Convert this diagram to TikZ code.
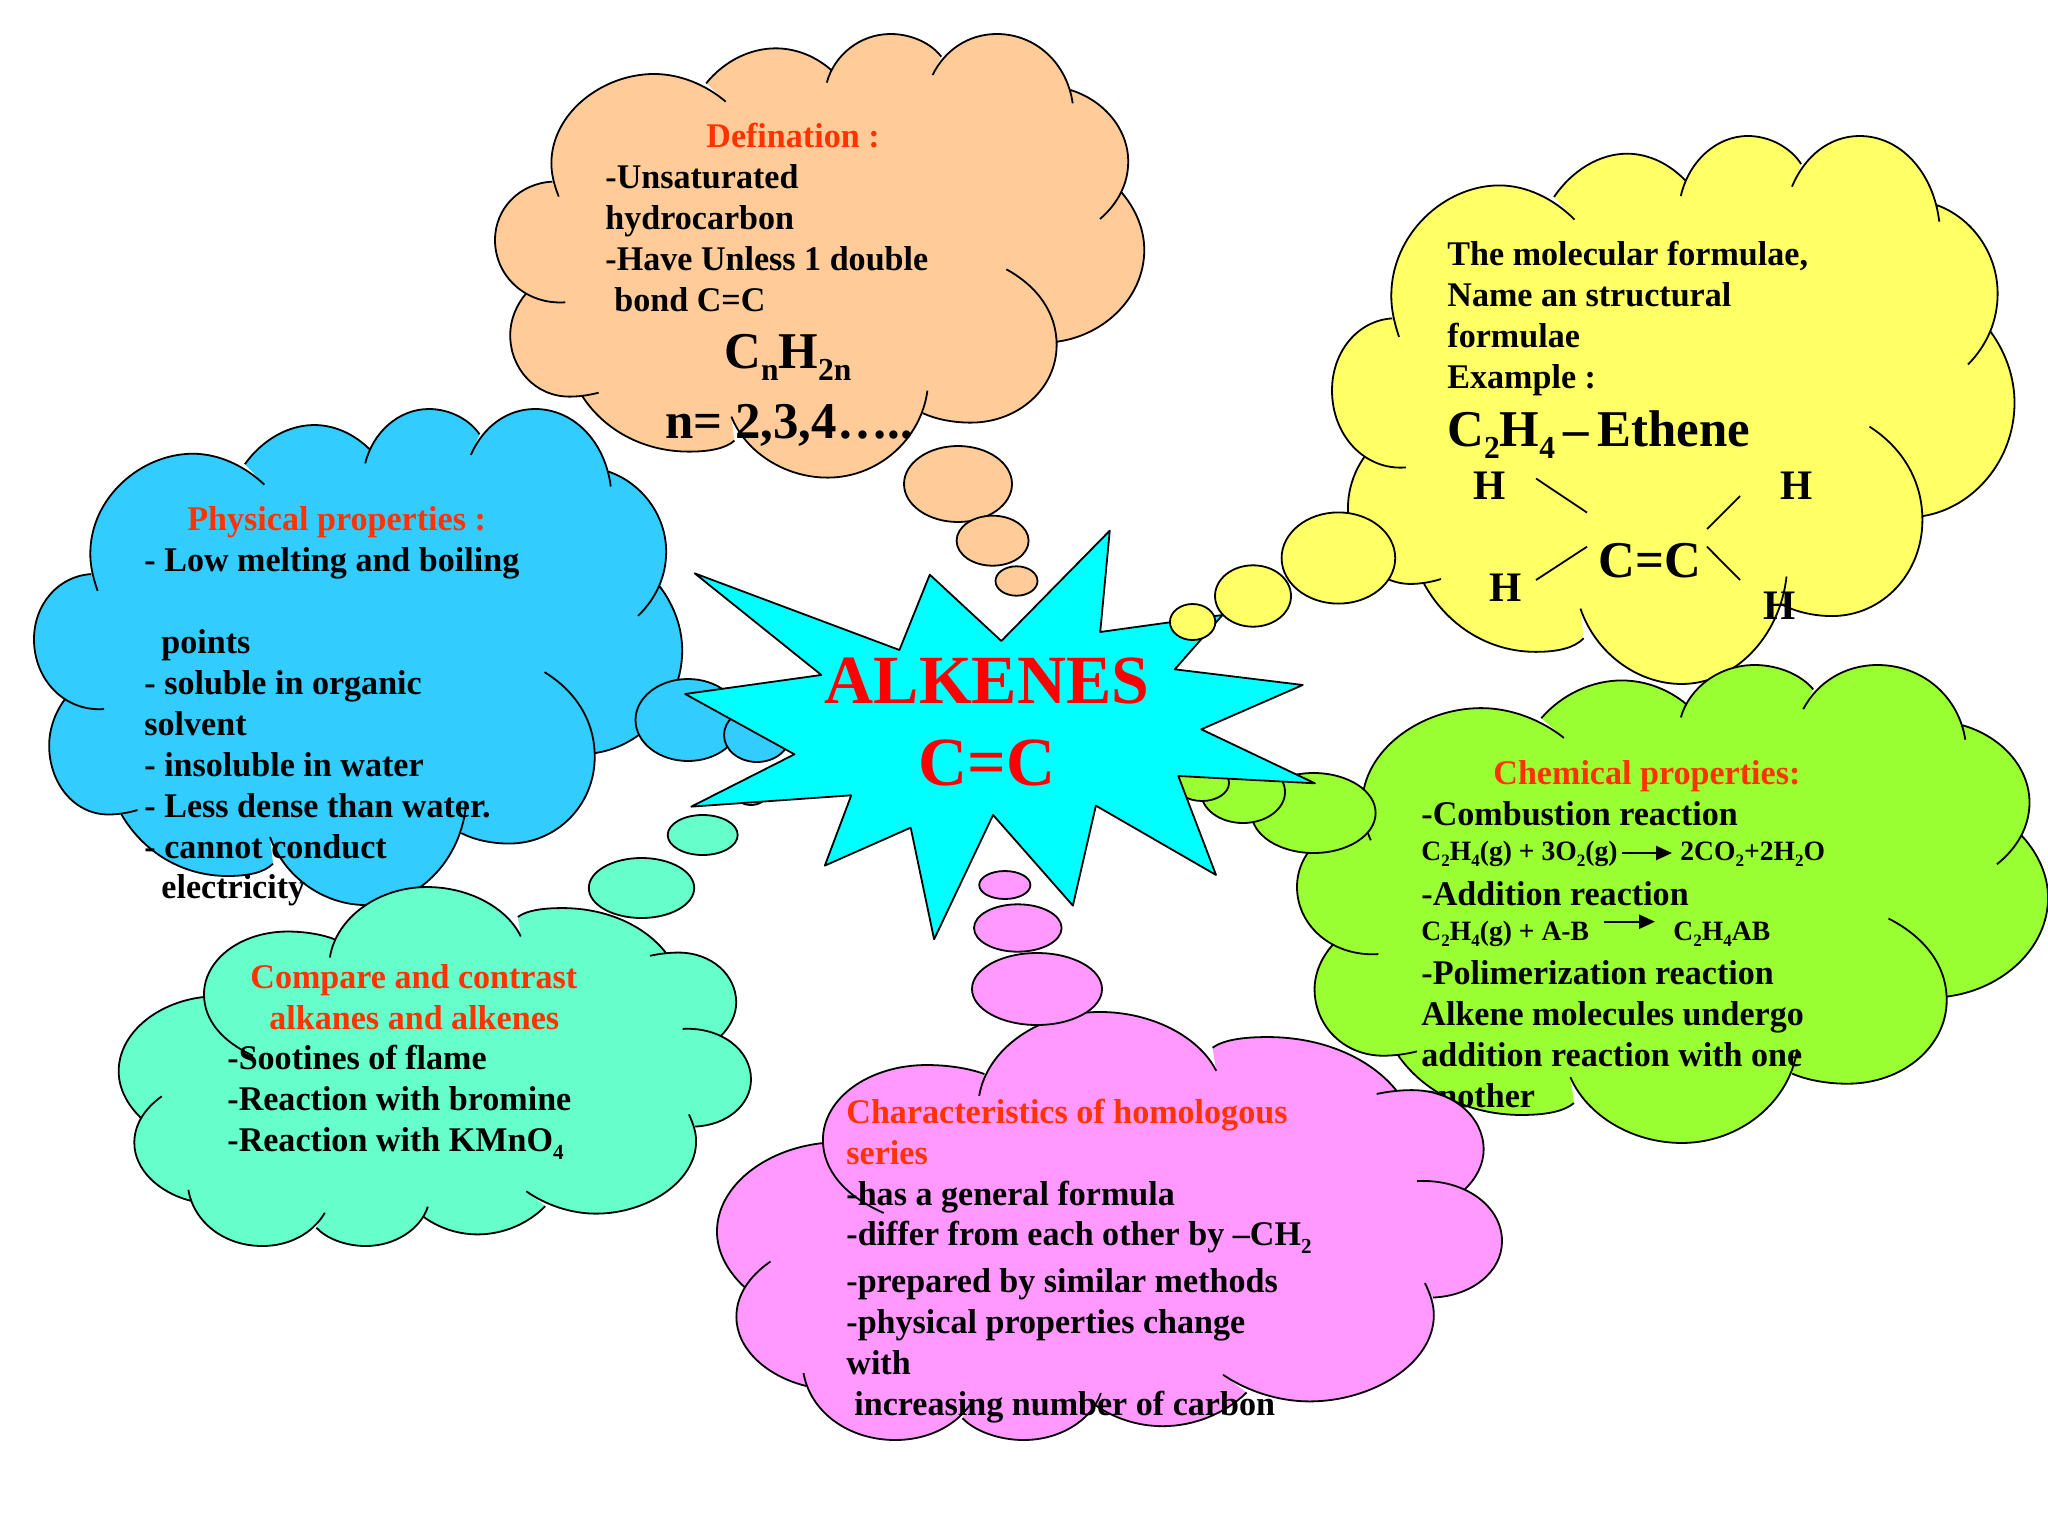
\documentclass[tikz,border=0pt]{standalone}
\usepackage{fontspec}
\usetikzlibrary{arrows.meta}
\newfontfamily\tn[FakeStretch=.985]{Liberation Serif}
\definecolor{cpeach}{HTML}{FFCC99}
\definecolor{cyellow}{HTML}{FFFF66}
\definecolor{cgreen}{HTML}{99FF33}
\definecolor{cblue}{HTML}{33CCFF}
\definecolor{cmint}{HTML}{66FFCC}
\definecolor{cpink}{HTML}{FF99FF}
\definecolor{cstar}{HTML}{00FFFF}
\definecolor{ctitle}{HTML}{FF3300}
\newcommand\cloudarcs[1]{
 (180,530) .. controls (168,490) and (163,460) .. (163,430) .. controls (163,280) and (280,162) .. (400,162) .. controls (460,162) and (520,195) .. (565,245) #1
 (520,190) .. controls (560,125) and (620,85) .. (680,85) .. controls (730,85) and (775,112) .. (808,150) #1
 (798,188) .. controls (815,105) and (875,42) .. (945,42) .. controls (995,42) and (1040,72) .. (1062,110) #1
 (1042,165) .. controls (1070,90) and (1125,42) .. (1190,42) .. controls (1280,42) and (1352,130) .. (1365,250) #1
 (1360,210) .. controls (1435,240) and (1493,325) .. (1493,425) .. controls (1493,490) and (1470,550) .. (1428,597) #1
 (1478,518) .. controls (1512,570) and (1530,630) .. (1530,690) .. controls (1530,830) and (1440,945) .. (1330,965) #1
 (1212,748) .. controls (1285,800) and (1328,880) .. (1328,975) .. controls (1328,1105) and (1240,1208) .. (1130,1208) .. controls (1090,1208) and (1050,1198) .. (1020,1180) #1
 (1030,1112) .. controls (1015,1260) and (915,1373) .. (800,1373) .. controls (700,1373) and (610,1295) .. (578,1190) #1
 (585,1262) .. controls (565,1285) and (530,1295) .. (480,1295) .. controls (375,1295) and (285,1230) .. (235,1130) #1
 (272,1118) .. controls (250,1126) and (225,1130) .. (205,1130) .. controls (125,1130) and (68,1045) .. (68,945) .. controls (68,900) and (82,855) .. (105,820) #1
 (195,847) .. controls (105,855) and (33,770) .. (33,660) .. controls (33,565) and (90,490) .. (165,485)
}
% colour, anchor x, anchor y, x scale, y scale
\newcommand\stdcloud[5]{
 \begin{scope}[shift={(#2,#3)},xscale=#4,yscale=#5,shift={(-33,-42)}]
  \fill[#1] \cloudarcs{--} -- cycle;
  \draw[outline] \cloudarcs{};
 \end{scope}}
\newcommand\bub[5]{\draw[outline,fill=#1] (#2,#3) ellipse [x radius=#4,y radius=#5];}
\newcommand\tline[5][]{\node[txt,#1] (#2) at (#3,#4) {#5};}
\newcommand\su[1]{\raisebox{-.24em}{\scalebox{.62}{#1}}}
\tikzset{
 outline/.style={draw=black,line width=.9pt,line join=round},
 txt/.style={anchor=base west,inner sep=0pt,text=black,yshift=-.6pt,font=\tn\bfseries\fontsize{17.3}{20}\selectfont},
 head/.style={text=ctitle},
 eqn/.style={font=\tn\bfseries\fontsize{14}{16}\selectfont},
 big/.style={yshift=.6pt,font=\tn\bfseries\fontsize{25.8}{30}\selectfont},
 atom/.style={yshift=.6pt,font=\tn\bfseries\fontsize{21}{26}\selectfont},
 main/.style={anchor=base,inner sep=0pt,text=red,font=\tn\bfseries\fontsize{34.5}{40}\selectfont},
 bond/.style={draw=black,line width=.9pt},
 react/.style={draw=black,line width=1.2pt,-{Triangle[length=8pt,width=7pt]}},
}
\begin{document}
\begin{tikzpicture}[x=.5pt,y=-.5pt]
\useasboundingbox (0,0) rectangle (2048,1536);
% peach
\stdcloud{cpeach}{495}{34}{.4337}{.3333}
\tline[head]{p0}{706}{146.7}{Defination :}
\tline{p1}{605}{187.7}{-Unsaturated}
\tline{p2}{605}{228}{hydrocarbon}
\tline{p3}{605}{269}{-Have Unless 1 double}
\tline{p4}{614}{310}{bond C=C}
\tline[big]{p5}{724}{368}{C\su{n}H\su{2n}}
\tline[big]{p6}{665}{438}{n= 2,3,4\dots..}
% blue
\stdcloud{cblue}{34}{409}{.4330}{.3727}
\tline[head]{b0}{187}{529}{Physical properties :}
\tline{b1}{144}{570}{- Low melting and boiling}
\tline{b2}{161}{652}{points}
\tline{b3}{144}{693}{- soluble in organic}
\tline{b4}{144}{734}{solvent}
\tline{b5}{144}{775}{- insoluble in water}
\tline{b6}{144}{816}{- Less dense than water.}
\tline{b7}{144}{857}{- cannot conduct}
\tline{b8}{161}{897}{electricity}
% yellow
\stdcloud{cyellow}{1332}{136}{.4559}{.4117}
\tline{y0}{1447}{264.4}{The molecular formulae,}
\tline{y1}{1447}{305}{Name an structural}
\tline{y2}{1447}{346}{formulae}
\tline{y3}{1447}{387.4}{Example :}
\tline[big]{y4}{1447}{446}{C\su{2}H\su{4}\,–\,Ethene}
\tline[atom]{h1}{1473}{499.6}{H}
\tline[atom]{h2}{1780}{499.6}{H}
\tline[big]{cc}{1598}{577}{C=C}
\tline[atom]{h3}{1489}{601.5}{H}
\tline[atom]{h4}{1763}{619}{H}
\coordinate (ba1) at (1536,478.5); \coordinate (ba2) at (1587,512.6);
\coordinate (bb1) at (1740,496);   \coordinate (bb2) at (1707,529);
\coordinate (bc1) at (1587,546.7); \coordinate (bc2) at (1536,580);
\coordinate (bd1) at (1707,546.7); \coordinate (bd2) at (1740,580);
\draw[bond] (ba1) -- (ba2);
\draw[bond] (bb1) -- (bb2);
\draw[bond] (bc1) -- (bc2);
\draw[bond] (bd1) -- (bd2);
% green
\stdcloud{cgreen}{1297}{665}{.5017}{.3591}
\tline[head]{g0}{1493}{783}{Chemical properties:}
\tline{g1}{1421}{824}{-Combustion reaction}
\tline[eqn]{g2}{1421}{859}{C\su{2}H\su{4}(g) + 3O\su{2}(g)}
\tline[eqn]{g3}{1680}{859}{2CO\su{2}+2H\su{2}O}
\tline{g4}{1421}{904}{-Addition reaction}
\tline[eqn]{g5}{1421}{939}{C\su{2}H\su{4}(g) + A-B}
\tline[eqn]{g6}{1673}{939}{C\su{2}H\su{4}AB}
\tline{g7}{1421}{983}{-Polimerization reaction}
\tline{g8}{1421}{1024}{Alkene molecules undergo}
\tline{g9}{1421}{1065}{addition reaction with one}
\tline{g10}{1421}{1106}{another}
\coordinate (ra1) at (1622,853); \coordinate (ra2) at (1672,853);
\coordinate (rb1) at (1604,921.7); \coordinate (rb2) at (1655,921.7);
\draw[react] (ra1) -- (ra2);
\draw[react] (rb1) -- (rb2);
% mint (turned half way round)
\stdcloud{cmint}{751}{1246}{-.4224}{-.2697}
\tline[head]{m0}{250}{987}{Compare and contrast}
\tline[head]{m1}{269}{1028}{alkanes and alkenes}
\tline{m2}{227}{1068}{-Sootines of flame}
\tline{m3}{227}{1109}{-Reaction with bromine}
\tline{m4}{227}{1150}{-Reaction with KMnO\su{4}}
% pink (turned half way round)
\stdcloud{cpink}{1502}{1440}{-.5244}{-.3216}
\tline[head]{k0}{846}{1122}{Characteristics of homologous}
\tline[head]{k1}{846}{1163}{series}
\tline{k2}{846}{1204}{-has a general formula}
\tline{k3}{846}{1244}{-differ from each other by –CH\su{2}}
\tline{k4}{846}{1291}{-prepared by similar methods}
\tline{k5}{846}{1332}{-physical properties change}
\tline{k6}{846}{1373}{with}
\tline{k7}{854}{1414}{increasing number of carbon}
% bubbles behind the star
\bub{cpeach}{958}{484}{54}{38}
\bub{cpeach}{992.6}{540.7}{36}{25}
\bub{cpeach}{1016.5}{581}{21}{14.7}
\bub{cblue}{688}{720}{52.5}{41}
\bub{cblue}{757}{735}{33}{27}
\bub{cgreen}{1313.6}{813}{62}{40}
\bub{cgreen}{1243}{792}{42}{31}
\bub{cgreen}{1202}{783}{27}{18}
\bub{cmint}{641.5}{888}{52.7}{30}
\bub{cmint}{702.7}{835}{35}{20}
\bub{cmint}{751}{795}{15}{10}
\bub{cpink}{1037}{989}{65}{36}
\bub{cpink}{1017.8}{928}{43.8}{23.7}
\bub{cpink}{1004.8}{885}{25.6}{14}
% star
\begin{scope}[shift={(660,500)},xscale=.4337,yscale=.3333]
\draw[outline,fill=cstar] (80,220) -- (552,450) -- (622,224) -- (787,423) -- (1037,92) -- (1015,396) -- (1297,345) -- (1187,508) -- (1482,555) -- (1248,688) -- (1510,850) -- (1195,828) -- (1282,1125) -- (1005,917) -- (952,1217) -- (768,945) -- (632,1318) -- (578,983) -- (380,1097) -- (441,886) -- (72,920) -- (310,763) -- (58,582) -- (372,525) -- cycle;
\end{scope}
\node[main] (t1) at (987,703) {ALKENES};
\node[main] (t2) at (987,785) {C=C};
% yellow bubbles over the star
\bub{cyellow}{1338.4}{558}{56.8}{45.6}
\bub{cyellow}{1253}{596}{38}{30.7}
\bub{cyellow}{1192.6}{622}{22.7}{18}
\end{tikzpicture}
\end{document}
